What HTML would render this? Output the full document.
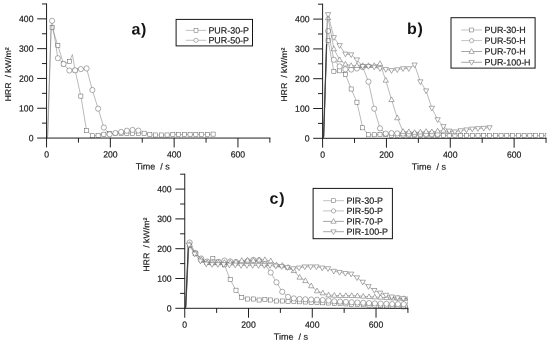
<!DOCTYPE html>
<html lang="en">
<head>
<meta charset="utf-8">
<title>HRR curves</title>
<style>
html,body{margin:0;padding:0;background:#fff;}
body{width:550px;height:344px;overflow:hidden;}
svg{display:block;}
svg text{text-rendering:geometricPrecision;font-family:"Liberation Sans",Arial,Helvetica,sans-serif;fill:#1a1a1a;stroke:#1a1a1a;stroke-width:0.18px;}
svg text.b{fill:#141414;stroke:none;letter-spacing:0.7px;}
</style>
</head>
<body>
<svg width="550" height="344" viewBox="0 0 550 344">
<rect width="550" height="344" fill="#fff"/>
<path d="M47.25 137.75L47.45 135.55L50.90 31.10L52.10 27.60L57.85 45.50L63.60 64.00L69.35 61.50L72.40 54.50L75.10 70.30L80.85 96.10L86.60 130.70L92.35 135.80L98.10 135.40L103.85 134.20L109.60 133.60L115.35 133.60L121.10 133.60L126.85 133.40L132.60 133.20L138.35 133.20L144.10 133.20L149.85 134.60L155.60 135.00L161.35 135.00L167.10 135.00L172.85 134.60L178.60 134.50L184.35 134.50L190.10 134.30L195.85 134.40L201.60 134.40L207.35 134.50L213.10 134.10" fill="none" stroke="#747474" stroke-width="0.5"/>
<g fill="#fff" stroke="#5a5a5a" stroke-width="0.5">
<rect x="50.05" y="25.55" width="4.1" height="4.1"/>
<rect x="55.80" y="43.45" width="4.1" height="4.1"/>
<rect x="61.55" y="61.95" width="4.1" height="4.1"/>
<rect x="67.30" y="59.45" width="4.1" height="4.1"/>
<rect x="73.05" y="68.25" width="4.1" height="4.1"/>
<rect x="78.80" y="94.05" width="4.1" height="4.1"/>
<rect x="84.55" y="128.65" width="4.1" height="4.1"/>
<rect x="90.30" y="133.75" width="4.1" height="4.1"/>
<rect x="96.05" y="133.35" width="4.1" height="4.1"/>
<rect x="101.80" y="132.15" width="4.1" height="4.1"/>
<rect x="107.55" y="131.55" width="4.1" height="4.1"/>
<rect x="113.30" y="131.55" width="4.1" height="4.1"/>
<rect x="119.05" y="131.55" width="4.1" height="4.1"/>
<rect x="124.80" y="131.35" width="4.1" height="4.1"/>
<rect x="130.55" y="131.15" width="4.1" height="4.1"/>
<rect x="136.30" y="131.15" width="4.1" height="4.1"/>
<rect x="142.05" y="131.15" width="4.1" height="4.1"/>
<rect x="147.80" y="132.55" width="4.1" height="4.1"/>
<rect x="153.55" y="132.95" width="4.1" height="4.1"/>
<rect x="159.30" y="132.95" width="4.1" height="4.1"/>
<rect x="165.05" y="132.95" width="4.1" height="4.1"/>
<rect x="170.80" y="132.55" width="4.1" height="4.1"/>
<rect x="176.55" y="132.45" width="4.1" height="4.1"/>
<rect x="182.30" y="132.45" width="4.1" height="4.1"/>
<rect x="188.05" y="132.25" width="4.1" height="4.1"/>
<rect x="193.80" y="132.35" width="4.1" height="4.1"/>
<rect x="199.55" y="132.35" width="4.1" height="4.1"/>
<rect x="205.30" y="132.45" width="4.1" height="4.1"/>
<rect x="211.05" y="132.05" width="4.1" height="4.1"/>
</g>
<path d="M47.25 137.75L47.85 135.55L51.30 24.30L52.10 20.80L57.85 58.20L63.60 64.00L69.35 70.50L75.10 70.30L80.85 69.10L86.60 68.40L92.35 90.00L98.10 108.70L103.85 127.50L109.60 134.30L115.35 133.00L121.10 131.90L126.85 130.70L132.60 129.90L138.35 130.60" fill="none" stroke="#747474" stroke-width="0.5"/>
<g fill="#fff" stroke="#5a5a5a" stroke-width="0.5">
<circle cx="52.10" cy="20.80" r="2.6"/>
<circle cx="57.85" cy="58.20" r="2.6"/>
<circle cx="63.60" cy="64.00" r="2.6"/>
<circle cx="69.35" cy="70.50" r="2.6"/>
<circle cx="75.10" cy="70.30" r="2.6"/>
<circle cx="80.85" cy="69.10" r="2.6"/>
<circle cx="86.60" cy="68.40" r="2.6"/>
<circle cx="92.35" cy="90.00" r="2.6"/>
<circle cx="98.10" cy="108.70" r="2.6"/>
<circle cx="103.85" cy="127.50" r="2.6"/>
<circle cx="109.60" cy="134.30" r="2.6"/>
<circle cx="115.35" cy="133.00" r="2.6"/>
<circle cx="121.10" cy="131.90" r="2.6"/>
<circle cx="126.85" cy="130.70" r="2.6"/>
<circle cx="132.60" cy="129.90" r="2.6"/>
<circle cx="138.35" cy="130.60" r="2.6"/>
</g>
<g stroke="#141414" stroke-width="0.95" fill="none" stroke-linecap="butt">
<path d="M46.55 138.55V3.45M46.05 138.05H270.35"/>
<path d="M46.55 138.05v9.4M78.45 138.05v4.6M110.35 138.05v9.4M142.25 138.05v4.6M174.15 138.05v9.4M206.05 138.05v4.6M237.95 138.05v9.4M269.85 138.05v4.6M46.55 138.05h-9.4M46.55 123.15h-4.6M46.55 108.25h-9.4M46.55 93.35h-4.6M46.55 78.45h-9.4M46.55 63.55h-4.6M46.55 48.65h-9.4M46.55 33.75h-4.6M46.55 18.85h-9.4M46.55 3.95h-4.6"/>
</g>
<text transform="translate(46.55,157.60) rotate(0.05) scale(0.95,1)" text-anchor="middle" font-size="9.1" font-weight="normal">0</text>
<text transform="translate(110.35,157.60) rotate(0.05) scale(0.95,1)" text-anchor="middle" font-size="9.1" font-weight="normal">200</text>
<text transform="translate(174.15,157.60) rotate(0.05) scale(0.95,1)" text-anchor="middle" font-size="9.1" font-weight="normal">400</text>
<text transform="translate(237.95,157.60) rotate(0.05) scale(0.95,1)" text-anchor="middle" font-size="9.1" font-weight="normal">600</text>
<text transform="translate(33.45,141.25) rotate(0.05) scale(0.95,1)" text-anchor="end" font-size="9.1" font-weight="normal">0</text>
<text transform="translate(33.45,111.45) rotate(0.05) scale(0.95,1)" text-anchor="end" font-size="9.1" font-weight="normal">100</text>
<text transform="translate(33.45,81.65) rotate(0.05) scale(0.95,1)" text-anchor="end" font-size="9.1" font-weight="normal">200</text>
<text transform="translate(33.45,51.85) rotate(0.05) scale(0.95,1)" text-anchor="end" font-size="9.1" font-weight="normal">300</text>
<text transform="translate(33.45,22.05) rotate(0.05) scale(0.95,1)" text-anchor="end" font-size="9.1" font-weight="normal">400</text>
<text transform="translate(152.75,169.45) rotate(0.05) scale(1.0,1)" text-anchor="middle" font-size="9.0" font-weight="normal">Time&#160;&#160;/ s</text>
<text transform="translate(10.95,74.45) scale(0.94,1) rotate(-89.95) scale(0.99,1)" text-anchor="middle" font-size="8.9" font-weight="normal">HRR&#160;&#160;/ kW/m²</text>
<rect x="176.1" y="19.4" width="76.4" height="26.5" fill="#fff" stroke="#141414" stroke-width="1"/>
<path d="M185.60 30.4H206.40" stroke="#a8a8a8" stroke-width="0.7"/>
<g fill="#fff" stroke="#666" stroke-width="0.5"><rect x="194.05" y="28.45" width="3.9" height="3.9"/></g>
<text transform="translate(208.40,33.46) rotate(0.05) scale(0.98,1)" text-anchor="start" font-size="9.1" font-weight="normal">PUR-30-P</text>
<path d="M185.60 40.3H206.40" stroke="#a8a8a8" stroke-width="0.7"/>
<g fill="#fff" stroke="#666" stroke-width="0.5"><circle cx="196.00" cy="40.30" r="2.1"/></g>
<text transform="translate(208.40,43.36) rotate(0.05) scale(0.98,1)" text-anchor="start" font-size="9.1" font-weight="normal">PUR-50-P</text>
<text transform="translate(139.30,34.40) rotate(0.05) scale(1,1)" text-anchor="middle" font-size="16" font-weight="bold" class="b">a)</text>
<clipPath id="cb"><rect x="300" y="0" width="246.4" height="172"/></clipPath><g clip-path="url(#cb)">
<path d="M323.30 138.00L323.50 135.80L326.90 43.90L328.10 40.40L333.87 71.40L339.63 70.80L345.40 74.30L351.16 89.00L356.93 102.20L362.69 127.80L368.46 134.80L374.22 134.80L379.99 134.50L385.75 134.50L391.52 135.60L397.28 135.60L403.05 135.60L408.81 135.60L414.58 135.60L420.34 135.60L426.11 135.60L431.87 135.60L437.63 135.60L443.40 135.60L449.17 135.60L454.93 135.60L460.70 135.60L466.46 135.60L472.23 135.60L477.99 135.60L483.75 135.60L489.52 135.60L495.29 135.60L501.05 135.60L506.82 135.60L512.58 135.60L518.35 135.60L524.11 135.60L529.88 135.60L535.64 135.60L541.40 135.60L547.17 135.60" fill="none" stroke="#747474" stroke-width="0.5"/>
<g fill="#fff" stroke="#5a5a5a" stroke-width="0.5">
<rect x="326.05" y="38.35" width="4.1" height="4.1"/>
<rect x="331.81" y="69.35" width="4.1" height="4.1"/>
<rect x="337.58" y="68.75" width="4.1" height="4.1"/>
<rect x="343.35" y="72.25" width="4.1" height="4.1"/>
<rect x="349.11" y="86.95" width="4.1" height="4.1"/>
<rect x="354.88" y="100.15" width="4.1" height="4.1"/>
<rect x="360.64" y="125.75" width="4.1" height="4.1"/>
<rect x="366.41" y="132.75" width="4.1" height="4.1"/>
<rect x="372.17" y="132.75" width="4.1" height="4.1"/>
<rect x="377.94" y="132.45" width="4.1" height="4.1"/>
<rect x="383.70" y="132.45" width="4.1" height="4.1"/>
<rect x="389.47" y="133.55" width="4.1" height="4.1"/>
<rect x="395.23" y="133.55" width="4.1" height="4.1"/>
<rect x="401.00" y="133.55" width="4.1" height="4.1"/>
<rect x="406.76" y="133.55" width="4.1" height="4.1"/>
<rect x="412.53" y="133.55" width="4.1" height="4.1"/>
<rect x="418.29" y="133.55" width="4.1" height="4.1"/>
<rect x="424.06" y="133.55" width="4.1" height="4.1"/>
<rect x="429.82" y="133.55" width="4.1" height="4.1"/>
<rect x="435.58" y="133.55" width="4.1" height="4.1"/>
<rect x="441.35" y="133.55" width="4.1" height="4.1"/>
<rect x="447.12" y="133.55" width="4.1" height="4.1"/>
<rect x="452.88" y="133.55" width="4.1" height="4.1"/>
<rect x="458.65" y="133.55" width="4.1" height="4.1"/>
<rect x="464.41" y="133.55" width="4.1" height="4.1"/>
<rect x="470.18" y="133.55" width="4.1" height="4.1"/>
<rect x="475.94" y="133.55" width="4.1" height="4.1"/>
<rect x="481.70" y="133.55" width="4.1" height="4.1"/>
<rect x="487.47" y="133.55" width="4.1" height="4.1"/>
<rect x="493.24" y="133.55" width="4.1" height="4.1"/>
<rect x="499.00" y="133.55" width="4.1" height="4.1"/>
<rect x="504.77" y="133.55" width="4.1" height="4.1"/>
<rect x="510.53" y="133.55" width="4.1" height="4.1"/>
<rect x="516.30" y="133.55" width="4.1" height="4.1"/>
<rect x="522.06" y="133.55" width="4.1" height="4.1"/>
<rect x="527.83" y="133.55" width="4.1" height="4.1"/>
<rect x="533.59" y="133.55" width="4.1" height="4.1"/>
<rect x="539.36" y="133.55" width="4.1" height="4.1"/>
<rect x="545.12" y="133.55" width="4.1" height="4.1"/>
</g>
<path d="M323.30 138.00L323.65 135.80L327.05 34.50L328.10 31.00L333.87 59.80L339.63 66.40L345.40 69.30L351.16 69.60L356.93 68.50L362.69 67.10L368.46 81.70L374.22 108.70L379.99 128.30L385.75 133.60L391.52 133.10L397.28 133.40L403.05 133.60L408.81 133.80L414.58 134.00L420.34 134.00L426.11 134.00L431.87 134.00L437.63 134.00" fill="none" stroke="#747474" stroke-width="0.5"/>
<g fill="#fff" stroke="#5a5a5a" stroke-width="0.5">
<circle cx="328.10" cy="31.00" r="2.6"/>
<circle cx="333.87" cy="59.80" r="2.6"/>
<circle cx="339.63" cy="66.40" r="2.6"/>
<circle cx="345.40" cy="69.30" r="2.6"/>
<circle cx="351.16" cy="69.60" r="2.6"/>
<circle cx="356.93" cy="68.50" r="2.6"/>
<circle cx="362.69" cy="67.10" r="2.6"/>
<circle cx="368.46" cy="81.70" r="2.6"/>
<circle cx="374.22" cy="108.70" r="2.6"/>
<circle cx="379.99" cy="128.30" r="2.6"/>
<circle cx="385.75" cy="133.60" r="2.6"/>
<circle cx="391.52" cy="133.10" r="2.6"/>
<circle cx="397.28" cy="133.40" r="2.6"/>
<circle cx="403.05" cy="133.60" r="2.6"/>
<circle cx="408.81" cy="133.80" r="2.6"/>
<circle cx="414.58" cy="134.00" r="2.6"/>
<circle cx="420.34" cy="134.00" r="2.6"/>
<circle cx="426.11" cy="134.00" r="2.6"/>
<circle cx="431.87" cy="134.00" r="2.6"/>
<circle cx="437.63" cy="134.00" r="2.6"/>
</g>
<path d="M323.30 138.00L323.80 135.80L327.20 21.30L328.10 17.80L333.87 48.90L339.63 59.80L345.40 64.20L351.16 65.60L356.93 65.60L362.69 65.60L368.46 65.60L374.22 65.60L379.99 63.70L385.75 80.30L391.52 99.70L397.28 117.90L403.05 131.50L408.81 131.80L414.58 132.50L420.34 132.10L426.11 131.50L431.87 131.80L437.63 131.10L443.40 130.40L449.17 131.80" fill="none" stroke="#747474" stroke-width="0.5"/>
<g fill="#fff" stroke="#5a5a5a" stroke-width="0.5">
<path d="M325.45 19.68L330.75 19.68L328.10 14.98Z"/>
<path d="M331.22 50.78L336.51 50.78L333.87 46.08Z"/>
<path d="M336.98 61.68L342.28 61.68L339.63 56.98Z"/>
<path d="M342.75 66.08L348.05 66.08L345.40 61.38Z"/>
<path d="M348.51 67.48L353.81 67.48L351.16 62.78Z"/>
<path d="M354.28 67.48L359.57 67.48L356.93 62.78Z"/>
<path d="M360.04 67.48L365.34 67.48L362.69 62.78Z"/>
<path d="M365.81 67.48L371.11 67.48L368.46 62.78Z"/>
<path d="M371.57 67.48L376.87 67.48L374.22 62.78Z"/>
<path d="M377.34 65.58L382.63 65.58L379.99 60.88Z"/>
<path d="M383.10 82.18L388.40 82.18L385.75 77.48Z"/>
<path d="M388.87 101.58L394.17 101.58L391.52 96.88Z"/>
<path d="M394.63 119.78L399.93 119.78L397.28 115.08Z"/>
<path d="M400.40 133.38L405.69 133.38L403.05 128.68Z"/>
<path d="M406.16 133.68L411.46 133.68L408.81 128.98Z"/>
<path d="M411.93 134.38L417.23 134.38L414.58 129.68Z"/>
<path d="M417.69 133.98L422.99 133.98L420.34 129.28Z"/>
<path d="M423.46 133.38L428.75 133.38L426.11 128.68Z"/>
<path d="M429.22 133.68L434.52 133.68L431.87 128.98Z"/>
<path d="M434.99 132.98L440.28 132.98L437.63 128.28Z"/>
<path d="M440.75 132.28L446.05 132.28L443.40 127.58Z"/>
<path d="M446.52 133.68L451.81 133.68L449.17 128.98Z"/>
</g>
<path d="M323.30 138.00L323.95 135.80L327.35 18.00L328.10 14.50L333.87 37.50L339.63 45.50L345.40 54.00L351.16 54.70L356.93 59.80L362.69 66.40L368.46 66.40L374.22 67.10L379.99 68.50L385.75 69.40L391.52 70.50L397.28 69.70L403.05 68.60L408.81 68.60L414.58 64.90L420.34 81.70L426.11 90.80L431.87 108.10L437.63 119.60L443.40 126.50L449.17 131.00L454.93 131.80L460.70 130.60L466.46 129.80L472.23 129.00L477.99 128.50L483.75 128.20L489.52 127.60" fill="none" stroke="#747474" stroke-width="0.5"/>
<g fill="#fff" stroke="#5a5a5a" stroke-width="0.5">
<path d="M325.45 12.62L330.75 12.62L328.10 17.32Z"/>
<path d="M331.22 35.62L336.51 35.62L333.87 40.32Z"/>
<path d="M336.98 43.62L342.28 43.62L339.63 48.32Z"/>
<path d="M342.75 52.12L348.05 52.12L345.40 56.82Z"/>
<path d="M348.51 52.82L353.81 52.82L351.16 57.52Z"/>
<path d="M354.28 57.92L359.57 57.92L356.93 62.62Z"/>
<path d="M360.04 64.52L365.34 64.52L362.69 69.22Z"/>
<path d="M365.81 64.52L371.11 64.52L368.46 69.22Z"/>
<path d="M371.57 65.22L376.87 65.22L374.22 69.92Z"/>
<path d="M377.34 66.62L382.63 66.62L379.99 71.32Z"/>
<path d="M383.10 67.52L388.40 67.52L385.75 72.22Z"/>
<path d="M388.87 68.62L394.17 68.62L391.52 73.32Z"/>
<path d="M394.63 67.82L399.93 67.82L397.28 72.52Z"/>
<path d="M400.40 66.72L405.69 66.72L403.05 71.42Z"/>
<path d="M406.16 66.72L411.46 66.72L408.81 71.42Z"/>
<path d="M411.93 63.02L417.23 63.02L414.58 67.72Z"/>
<path d="M417.69 79.82L422.99 79.82L420.34 84.52Z"/>
<path d="M423.46 88.92L428.75 88.92L426.11 93.62Z"/>
<path d="M429.22 106.22L434.52 106.22L431.87 110.92Z"/>
<path d="M434.99 117.72L440.28 117.72L437.63 122.42Z"/>
<path d="M440.75 124.62L446.05 124.62L443.40 129.32Z"/>
<path d="M446.52 129.12L451.81 129.12L449.17 133.82Z"/>
<path d="M452.28 129.92L457.58 129.92L454.93 134.62Z"/>
<path d="M458.05 128.72L463.35 128.72L460.70 133.42Z"/>
<path d="M463.81 127.92L469.11 127.92L466.46 132.62Z"/>
<path d="M469.58 127.12L474.88 127.12L472.23 131.82Z"/>
<path d="M475.34 126.62L480.64 126.62L477.99 131.32Z"/>
<path d="M481.11 126.32L486.40 126.32L483.75 131.02Z"/>
<path d="M486.87 125.72L492.17 125.72L489.52 130.42Z"/>
</g>
<path d="M323.55 137.6L326.55 44" stroke="#3c3c3c" stroke-width="1.1" fill="none"/>
</g>
<g stroke="#141414" stroke-width="0.95" fill="none" stroke-linecap="butt">
<path d="M322.60 138.80V3.70M322.10 138.30H546.54"/>
<path d="M322.60 138.30v9.4M354.52 138.30v4.6M386.44 138.30v9.4M418.36 138.30v4.6M450.28 138.30v9.4M482.20 138.30v4.6M514.12 138.30v9.4M546.04 138.30v4.6M322.60 138.30h-9.4M322.60 123.40h-4.6M322.60 108.50h-9.4M322.60 93.60h-4.6M322.60 78.70h-9.4M322.60 63.80h-4.6M322.60 48.90h-9.4M322.60 34.00h-4.6M322.60 19.10h-9.4M322.60 4.20h-4.6"/>
</g>
<text transform="translate(322.60,157.85) rotate(0.05) scale(0.95,1)" text-anchor="middle" font-size="9.1" font-weight="normal">0</text>
<text transform="translate(386.44,157.85) rotate(0.05) scale(0.95,1)" text-anchor="middle" font-size="9.1" font-weight="normal">200</text>
<text transform="translate(450.28,157.85) rotate(0.05) scale(0.95,1)" text-anchor="middle" font-size="9.1" font-weight="normal">400</text>
<text transform="translate(514.12,157.85) rotate(0.05) scale(0.95,1)" text-anchor="middle" font-size="9.1" font-weight="normal">600</text>
<text transform="translate(309.50,141.50) rotate(0.05) scale(0.95,1)" text-anchor="end" font-size="9.1" font-weight="normal">0</text>
<text transform="translate(309.50,111.70) rotate(0.05) scale(0.95,1)" text-anchor="end" font-size="9.1" font-weight="normal">100</text>
<text transform="translate(309.50,81.90) rotate(0.05) scale(0.95,1)" text-anchor="end" font-size="9.1" font-weight="normal">200</text>
<text transform="translate(309.50,52.10) rotate(0.05) scale(0.95,1)" text-anchor="end" font-size="9.1" font-weight="normal">300</text>
<text transform="translate(309.50,22.30) rotate(0.05) scale(0.95,1)" text-anchor="end" font-size="9.1" font-weight="normal">400</text>
<text transform="translate(428.80,169.70) rotate(0.05) scale(1.0,1)" text-anchor="middle" font-size="9.0" font-weight="normal">Time&#160;&#160;/ s</text>
<text transform="translate(287.00,74.70) scale(0.94,1) rotate(-89.95) scale(0.99,1)" text-anchor="middle" font-size="8.9" font-weight="normal">HRR&#160;&#160;/ kW/m²</text>
<rect x="451.0" y="17.7" width="84.1" height="50.4" fill="#fff" stroke="#141414" stroke-width="1"/>
<path d="M461.20 30.0H482.00" stroke="#a8a8a8" stroke-width="0.7"/>
<g fill="#fff" stroke="#666" stroke-width="0.5"><rect x="469.65" y="28.05" width="3.9" height="3.9"/></g>
<text transform="translate(484.50,33.06) rotate(0.05) scale(0.98,1)" text-anchor="start" font-size="9.1" font-weight="normal">PUR-30-H</text>
<path d="M461.20 40.6H482.00" stroke="#a8a8a8" stroke-width="0.7"/>
<g fill="#fff" stroke="#666" stroke-width="0.5"><circle cx="471.60" cy="40.60" r="2.1"/></g>
<text transform="translate(484.50,43.66) rotate(0.05) scale(0.98,1)" text-anchor="start" font-size="9.1" font-weight="normal">PUR-50-H</text>
<path d="M461.20 51.5H482.00" stroke="#808080" stroke-width="0.7"/>
<g fill="#fff" stroke="#666" stroke-width="0.5"><path d="M468.95 53.38L474.25 53.38L471.60 48.68Z"/></g>
<text transform="translate(484.50,54.56) rotate(0.05) scale(0.98,1)" text-anchor="start" font-size="9.1" font-weight="normal">PUR-70-H</text>
<path d="M461.20 62.3H482.00" stroke="#808080" stroke-width="0.7"/>
<g fill="#fff" stroke="#666" stroke-width="0.5"><path d="M468.95 60.42L474.25 60.42L471.60 65.12Z"/></g>
<text transform="translate(484.50,65.36) rotate(0.05) scale(0.98,1)" text-anchor="start" font-size="9.1" font-weight="normal">PUR-100-H</text>
<text transform="translate(415.30,33.90) rotate(0.05) scale(1,1)" text-anchor="middle" font-size="16" font-weight="bold" class="b">b)</text>
<clipPath id="cc"><rect x="170" y="172" width="238.1" height="172"/></clipPath><g clip-path="url(#cc)">
<path d="M185.45 308.00L185.65 305.80L188.50 249.00L189.70 245.50L195.48 253.40L201.27 260.00L207.05 262.50L212.84 258.50L218.62 262.00L224.41 264.80L230.19 279.60L235.98 290.20L241.76 297.50L247.55 299.00L253.33 299.00L259.12 300.00L264.90 299.60L270.69 300.00L276.48 301.00L282.26 301.00L288.04 301.60L293.83 301.50L299.62 301.80L305.40 302.00L311.19 302.30L316.97 302.60L322.75 302.80L328.54 303.00L334.32 303.30L340.11 303.60L345.89 303.90L351.68 304.20L357.47 304.50L363.25 304.80L369.03 305.10L374.82 305.40L380.61 305.70L386.39 306.00L392.17 306.30L397.96 306.60L403.75 306.90L409.53 307.20" fill="none" stroke="#747474" stroke-width="0.5"/>
<g fill="#fff" stroke="#5a5a5a" stroke-width="0.5">
<rect x="187.65" y="243.45" width="4.1" height="4.1"/>
<rect x="193.43" y="251.35" width="4.1" height="4.1"/>
<rect x="199.22" y="257.95" width="4.1" height="4.1"/>
<rect x="205.00" y="260.45" width="4.1" height="4.1"/>
<rect x="210.79" y="256.45" width="4.1" height="4.1"/>
<rect x="216.57" y="259.95" width="4.1" height="4.1"/>
<rect x="222.36" y="262.75" width="4.1" height="4.1"/>
<rect x="228.14" y="277.55" width="4.1" height="4.1"/>
<rect x="233.93" y="288.15" width="4.1" height="4.1"/>
<rect x="239.71" y="295.45" width="4.1" height="4.1"/>
<rect x="245.50" y="296.95" width="4.1" height="4.1"/>
<rect x="251.28" y="296.95" width="4.1" height="4.1"/>
<rect x="257.07" y="297.95" width="4.1" height="4.1"/>
<rect x="262.85" y="297.55" width="4.1" height="4.1"/>
<rect x="268.64" y="297.95" width="4.1" height="4.1"/>
<rect x="274.43" y="298.95" width="4.1" height="4.1"/>
<rect x="280.21" y="298.95" width="4.1" height="4.1"/>
<rect x="285.99" y="299.55" width="4.1" height="4.1"/>
<rect x="291.78" y="299.45" width="4.1" height="4.1"/>
<rect x="297.56" y="299.75" width="4.1" height="4.1"/>
<rect x="303.35" y="299.95" width="4.1" height="4.1"/>
<rect x="309.13" y="300.25" width="4.1" height="4.1"/>
<rect x="314.92" y="300.55" width="4.1" height="4.1"/>
<rect x="320.70" y="300.75" width="4.1" height="4.1"/>
<rect x="326.49" y="300.95" width="4.1" height="4.1"/>
<rect x="332.27" y="301.25" width="4.1" height="4.1"/>
<rect x="338.06" y="301.55" width="4.1" height="4.1"/>
<rect x="343.84" y="301.85" width="4.1" height="4.1"/>
<rect x="349.63" y="302.15" width="4.1" height="4.1"/>
<rect x="355.42" y="302.45" width="4.1" height="4.1"/>
<rect x="361.20" y="302.75" width="4.1" height="4.1"/>
<rect x="366.98" y="303.05" width="4.1" height="4.1"/>
<rect x="372.77" y="303.35" width="4.1" height="4.1"/>
<rect x="378.56" y="303.65" width="4.1" height="4.1"/>
<rect x="384.34" y="303.95" width="4.1" height="4.1"/>
<rect x="390.12" y="304.25" width="4.1" height="4.1"/>
<rect x="395.91" y="304.55" width="4.1" height="4.1"/>
<rect x="401.69" y="304.85" width="4.1" height="4.1"/>
<rect x="407.48" y="305.15" width="4.1" height="4.1"/>
</g>
<path d="M185.45 308.00L185.80 305.80L188.65 246.00L189.70 242.50L195.48 253.00L201.27 258.50L207.05 261.50L212.84 262.00L218.62 262.00L224.41 260.60L230.19 261.40L235.98 262.00L241.76 262.50L247.55 261.00L253.33 259.90L259.12 260.30L264.90 264.30L270.69 272.50L276.48 282.30L282.26 291.80L288.04 296.90L293.83 298.40L299.62 299.00L305.40 299.30L311.19 299.50L316.97 299.70L322.75 300.00L328.54 300.50L334.32 301.30L340.11 301.60L345.89 301.90L351.68 302.20L357.47 302.50L363.25 302.80L369.03 303.10L374.82 303.40L380.61 303.60L386.39 303.80L392.17 304.00L397.96 304.10L403.75 304.20L409.53 304.30" fill="none" stroke="#747474" stroke-width="0.5"/>
<g fill="#fff" stroke="#5a5a5a" stroke-width="0.5">
<circle cx="189.70" cy="242.50" r="2.6"/>
<circle cx="195.48" cy="253.00" r="2.6"/>
<circle cx="201.27" cy="258.50" r="2.6"/>
<circle cx="207.05" cy="261.50" r="2.6"/>
<circle cx="212.84" cy="262.00" r="2.6"/>
<circle cx="218.62" cy="262.00" r="2.6"/>
<circle cx="224.41" cy="260.60" r="2.6"/>
<circle cx="230.19" cy="261.40" r="2.6"/>
<circle cx="235.98" cy="262.00" r="2.6"/>
<circle cx="241.76" cy="262.50" r="2.6"/>
<circle cx="247.55" cy="261.00" r="2.6"/>
<circle cx="253.33" cy="259.90" r="2.6"/>
<circle cx="259.12" cy="260.30" r="2.6"/>
<circle cx="264.90" cy="264.30" r="2.6"/>
<circle cx="270.69" cy="272.50" r="2.6"/>
<circle cx="276.48" cy="282.30" r="2.6"/>
<circle cx="282.26" cy="291.80" r="2.6"/>
<circle cx="288.04" cy="296.90" r="2.6"/>
<circle cx="293.83" cy="298.40" r="2.6"/>
<circle cx="299.62" cy="299.00" r="2.6"/>
<circle cx="305.40" cy="299.30" r="2.6"/>
<circle cx="311.19" cy="299.50" r="2.6"/>
<circle cx="316.97" cy="299.70" r="2.6"/>
<circle cx="322.75" cy="300.00" r="2.6"/>
<circle cx="328.54" cy="300.50" r="2.6"/>
<circle cx="334.32" cy="301.30" r="2.6"/>
<circle cx="340.11" cy="301.60" r="2.6"/>
<circle cx="345.89" cy="301.90" r="2.6"/>
<circle cx="351.68" cy="302.20" r="2.6"/>
<circle cx="357.47" cy="302.50" r="2.6"/>
<circle cx="363.25" cy="302.80" r="2.6"/>
<circle cx="369.03" cy="303.10" r="2.6"/>
<circle cx="374.82" cy="303.40" r="2.6"/>
<circle cx="380.61" cy="303.60" r="2.6"/>
<circle cx="386.39" cy="303.80" r="2.6"/>
<circle cx="392.17" cy="304.00" r="2.6"/>
<circle cx="397.96" cy="304.10" r="2.6"/>
<circle cx="403.75" cy="304.20" r="2.6"/>
<circle cx="409.53" cy="304.30" r="2.6"/>
</g>
<path d="M185.45 308.00L185.95 305.80L188.80 248.00L189.70 244.50L195.48 253.50L201.27 259.50L207.05 262.50L212.84 263.00L218.62 263.00L224.41 262.50L230.19 262.50L235.98 262.00L241.76 260.50L247.55 260.30L253.33 260.50L259.12 260.00L264.90 259.70L270.69 260.90L276.48 265.00L282.26 265.40L288.04 267.40L293.83 270.70L299.62 277.30L305.40 280.70L311.19 285.90L316.97 290.90L322.75 293.00L328.54 295.00L334.32 295.40L340.11 295.60L345.89 295.60L351.68 295.60L357.47 295.80L363.25 296.30L369.03 296.70L374.82 297.00L380.61 297.30L386.39 297.70L392.17 298.00L397.96 298.30L403.75 298.60L409.53 298.90" fill="none" stroke="#747474" stroke-width="0.5"/>
<g fill="#fff" stroke="#5a5a5a" stroke-width="0.5">
<path d="M187.05 246.38L192.35 246.38L189.70 241.68Z"/>
<path d="M192.83 255.38L198.13 255.38L195.48 250.68Z"/>
<path d="M198.62 261.38L203.92 261.38L201.27 256.68Z"/>
<path d="M204.40 264.38L209.70 264.38L207.05 259.68Z"/>
<path d="M210.19 264.88L215.49 264.88L212.84 260.18Z"/>
<path d="M215.97 264.88L221.28 264.88L218.62 260.18Z"/>
<path d="M221.76 264.38L227.06 264.38L224.41 259.68Z"/>
<path d="M227.54 264.38L232.84 264.38L230.19 259.68Z"/>
<path d="M233.33 263.88L238.63 263.88L235.98 259.18Z"/>
<path d="M239.11 262.38L244.41 262.38L241.76 257.68Z"/>
<path d="M244.90 262.18L250.20 262.18L247.55 257.48Z"/>
<path d="M250.68 262.38L255.98 262.38L253.33 257.68Z"/>
<path d="M256.47 261.88L261.77 261.88L259.12 257.18Z"/>
<path d="M262.25 261.58L267.55 261.58L264.90 256.88Z"/>
<path d="M268.04 262.78L273.34 262.78L270.69 258.08Z"/>
<path d="M273.83 266.88L279.12 266.88L276.48 262.18Z"/>
<path d="M279.61 267.28L284.91 267.28L282.26 262.58Z"/>
<path d="M285.39 269.28L290.69 269.28L288.04 264.58Z"/>
<path d="M291.18 272.58L296.48 272.58L293.83 267.88Z"/>
<path d="M296.97 279.18L302.26 279.18L299.62 274.48Z"/>
<path d="M302.75 282.58L308.05 282.58L305.40 277.88Z"/>
<path d="M308.54 287.78L313.83 287.78L311.19 283.08Z"/>
<path d="M314.32 292.78L319.62 292.78L316.97 288.08Z"/>
<path d="M320.11 294.88L325.40 294.88L322.75 290.18Z"/>
<path d="M325.89 296.88L331.19 296.88L328.54 292.18Z"/>
<path d="M331.68 297.28L336.97 297.28L334.32 292.58Z"/>
<path d="M337.46 297.48L342.76 297.48L340.11 292.78Z"/>
<path d="M343.25 297.48L348.54 297.48L345.89 292.78Z"/>
<path d="M349.03 297.48L354.33 297.48L351.68 292.78Z"/>
<path d="M354.82 297.68L360.12 297.68L357.47 292.98Z"/>
<path d="M360.60 298.18L365.90 298.18L363.25 293.48Z"/>
<path d="M366.38 298.58L371.68 298.58L369.03 293.88Z"/>
<path d="M372.17 298.88L377.47 298.88L374.82 294.18Z"/>
<path d="M377.96 299.18L383.25 299.18L380.61 294.48Z"/>
<path d="M383.74 299.58L389.04 299.58L386.39 294.88Z"/>
<path d="M389.52 299.88L394.82 299.88L392.17 295.18Z"/>
<path d="M395.31 300.18L400.61 300.18L397.96 295.48Z"/>
<path d="M401.10 300.48L406.39 300.48L403.75 295.78Z"/>
<path d="M406.88 300.78L412.18 300.78L409.53 296.08Z"/>
</g>
<path d="M185.45 308.00L186.10 305.80L188.15 248.50L188.90 245.00L194.69 254.00L200.49 261.00L206.28 264.00L212.08 264.50L217.88 264.50L223.67 264.50L229.47 265.00L235.26 265.00L241.06 265.50L246.85 265.50L252.65 265.50L258.44 265.50L264.24 265.50L270.03 265.50L275.82 266.00L281.62 266.50L287.42 267.50L293.21 268.60L299.00 267.90L304.80 266.80L310.60 266.80L316.39 266.80L322.19 267.90L327.98 268.60L333.77 271.20L339.57 272.30L345.37 273.40L351.16 274.00L356.96 277.70L362.75 282.10L368.55 286.50L374.34 290.40L380.13 293.00L385.93 295.20L391.73 296.90L397.52 297.80L403.31 298.50L409.11 298.90" fill="none" stroke="#747474" stroke-width="0.5"/>
<g fill="#fff" stroke="#5a5a5a" stroke-width="0.5">
<path d="M186.25 243.12L191.55 243.12L188.90 247.82Z"/>
<path d="M192.04 252.12L197.34 252.12L194.69 256.82Z"/>
<path d="M197.84 259.12L203.14 259.12L200.49 263.82Z"/>
<path d="M203.63 262.12L208.94 262.12L206.28 266.82Z"/>
<path d="M209.43 262.62L214.73 262.62L212.08 267.32Z"/>
<path d="M215.22 262.62L220.53 262.62L217.88 267.32Z"/>
<path d="M221.02 262.62L226.32 262.62L223.67 267.32Z"/>
<path d="M226.81 263.12L232.12 263.12L229.47 267.82Z"/>
<path d="M232.61 263.12L237.91 263.12L235.26 267.82Z"/>
<path d="M238.41 263.62L243.71 263.62L241.06 268.32Z"/>
<path d="M244.20 263.62L249.50 263.62L246.85 268.32Z"/>
<path d="M250.00 263.62L255.30 263.62L252.65 268.32Z"/>
<path d="M255.79 263.62L261.09 263.62L258.44 268.32Z"/>
<path d="M261.59 263.62L266.88 263.62L264.24 268.32Z"/>
<path d="M267.38 263.62L272.68 263.62L270.03 268.32Z"/>
<path d="M273.18 264.12L278.47 264.12L275.82 268.82Z"/>
<path d="M278.97 264.62L284.27 264.62L281.62 269.32Z"/>
<path d="M284.77 265.62L290.06 265.62L287.42 270.32Z"/>
<path d="M290.56 266.72L295.86 266.72L293.21 271.42Z"/>
<path d="M296.36 266.02L301.65 266.02L299.00 270.72Z"/>
<path d="M302.15 264.92L307.45 264.92L304.80 269.62Z"/>
<path d="M307.95 264.92L313.25 264.92L310.60 269.62Z"/>
<path d="M313.74 264.92L319.04 264.92L316.39 269.62Z"/>
<path d="M319.54 266.02L324.83 266.02L322.19 270.72Z"/>
<path d="M325.33 266.72L330.63 266.72L327.98 271.42Z"/>
<path d="M331.12 269.32L336.42 269.32L333.77 274.02Z"/>
<path d="M336.92 270.42L342.22 270.42L339.57 275.12Z"/>
<path d="M342.72 271.52L348.01 271.52L345.37 276.22Z"/>
<path d="M348.51 272.12L353.81 272.12L351.16 276.82Z"/>
<path d="M354.31 275.82L359.61 275.82L356.96 280.52Z"/>
<path d="M360.10 280.22L365.40 280.22L362.75 284.92Z"/>
<path d="M365.90 284.62L371.19 284.62L368.55 289.32Z"/>
<path d="M371.69 288.52L376.99 288.52L374.34 293.22Z"/>
<path d="M377.49 291.12L382.78 291.12L380.13 295.82Z"/>
<path d="M383.28 293.32L388.58 293.32L385.93 298.02Z"/>
<path d="M389.08 295.02L394.38 295.02L391.73 299.72Z"/>
<path d="M394.87 295.92L400.17 295.92L397.52 300.62Z"/>
<path d="M400.67 296.62L405.96 296.62L403.31 301.32Z"/>
<path d="M406.46 297.02L411.76 297.02L409.11 301.72Z"/>
</g>
</g>
<path d="M185.6 307.8L188.2 248" stroke="#3c3c3c" stroke-width="1.1" fill="none"/>
<g stroke="#141414" stroke-width="0.95" fill="none" stroke-linecap="butt">
<path d="M184.75 308.80V173.70M184.25 308.30H408.41"/>
<path d="M184.75 308.30v9.4M216.63 308.30v4.6M248.51 308.30v9.4M280.39 308.30v4.6M312.27 308.30v9.4M344.15 308.30v4.6M376.03 308.30v9.4M407.91 308.30v4.6M184.75 308.30h-9.4M184.75 293.40h-4.6M184.75 278.50h-9.4M184.75 263.60h-4.6M184.75 248.70h-9.4M184.75 233.80h-4.6M184.75 218.90h-9.4M184.75 204.00h-4.6M184.75 189.10h-9.4M184.75 174.20h-4.6"/>
</g>
<text transform="translate(184.75,327.85) rotate(0.05) scale(0.95,1)" text-anchor="middle" font-size="9.1" font-weight="normal">0</text>
<text transform="translate(248.51,327.85) rotate(0.05) scale(0.95,1)" text-anchor="middle" font-size="9.1" font-weight="normal">200</text>
<text transform="translate(312.27,327.85) rotate(0.05) scale(0.95,1)" text-anchor="middle" font-size="9.1" font-weight="normal">400</text>
<text transform="translate(376.03,327.85) rotate(0.05) scale(0.95,1)" text-anchor="middle" font-size="9.1" font-weight="normal">600</text>
<text transform="translate(171.65,311.50) rotate(0.05) scale(0.95,1)" text-anchor="end" font-size="9.1" font-weight="normal">0</text>
<text transform="translate(171.65,281.70) rotate(0.05) scale(0.95,1)" text-anchor="end" font-size="9.1" font-weight="normal">100</text>
<text transform="translate(171.65,251.90) rotate(0.05) scale(0.95,1)" text-anchor="end" font-size="9.1" font-weight="normal">200</text>
<text transform="translate(171.65,222.10) rotate(0.05) scale(0.95,1)" text-anchor="end" font-size="9.1" font-weight="normal">300</text>
<text transform="translate(171.65,192.30) rotate(0.05) scale(0.95,1)" text-anchor="end" font-size="9.1" font-weight="normal">400</text>
<text transform="translate(290.95,339.70) rotate(0.05) scale(1.0,1)" text-anchor="middle" font-size="9.0" font-weight="normal">Time&#160;&#160;/ s</text>
<text transform="translate(149.15,244.70) scale(0.94,1) rotate(-89.95) scale(0.99,1)" text-anchor="middle" font-size="8.9" font-weight="normal">HRR&#160;&#160;/ kW/m²</text>
<rect x="313.1" y="188.4" width="79.3" height="50.3" fill="#fff" stroke="#141414" stroke-width="1"/>
<path d="M323.10 200.7H343.90" stroke="#a8a8a8" stroke-width="0.7"/>
<g fill="#fff" stroke="#666" stroke-width="0.5"><rect x="331.55" y="198.75" width="3.9" height="3.9"/></g>
<text transform="translate(346.40,203.76) rotate(0.05) scale(0.98,1)" text-anchor="start" font-size="9.1" font-weight="normal">PIR-30-P</text>
<path d="M323.10 210.9H343.90" stroke="#a8a8a8" stroke-width="0.7"/>
<g fill="#fff" stroke="#666" stroke-width="0.5"><circle cx="333.50" cy="210.90" r="2.1"/></g>
<text transform="translate(346.40,213.96) rotate(0.05) scale(0.98,1)" text-anchor="start" font-size="9.1" font-weight="normal">PIR-50-P</text>
<path d="M323.10 221.4H343.90" stroke="#808080" stroke-width="0.7"/>
<g fill="#fff" stroke="#666" stroke-width="0.5"><path d="M330.85 223.28L336.15 223.28L333.50 218.58Z"/></g>
<text transform="translate(346.40,224.46) rotate(0.05) scale(0.98,1)" text-anchor="start" font-size="9.1" font-weight="normal">PIR-70-P</text>
<path d="M323.10 231.7H343.90" stroke="#808080" stroke-width="0.7"/>
<g fill="#fff" stroke="#666" stroke-width="0.5"><path d="M330.85 229.82L336.15 229.82L333.50 234.52Z"/></g>
<text transform="translate(346.40,234.76) rotate(0.05) scale(0.98,1)" text-anchor="start" font-size="9.1" font-weight="normal">PIR-100-P</text>
<text transform="translate(277.40,203.70) rotate(0.05) scale(1,1)" text-anchor="middle" font-size="16" font-weight="bold" class="b">c)</text>
</svg>
</body>
</html>
